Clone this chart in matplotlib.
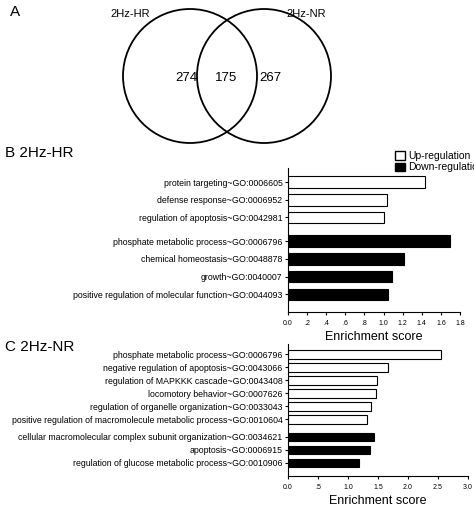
import matplotlib
matplotlib.use("Agg")
import matplotlib.pyplot as plt
from matplotlib.patches import Circle, Patch
import numpy as np

plt.rcParams['font.family'] = ['Liberation Sans', 'DejaVu Sans']

venn_labels = ["2Hz-HR", "2Hz-NR"]
venn_counts = [274, 175, 267]

hr_terms = ["protein targeting~GO:0006605", "defense response~GO:0006952",
            "regulation of apoptosis~GO:0042981", "phosphate metabolic process~GO:0006796",
            "chemical homeostasis~GO:0048878", "growth~GO:0040007",
            "positive regulation of molecular function~GO:0044093"]
hr_values = [1.43, 1.04, 1.00, 1.70, 1.21, 1.09, 1.05]
hr_up = [True, True, True, False, False, False, False]
hr_ticks = [0, .2, .4, .6, .8, 1.0, 1.2, 1.4, 1.6, 1.8]
hr_ticklabels = ["0.0", ".2", ".4", ".6", ".8", "1.0", "1.2", "1.4", "1.6", "1.8"]

nr_terms = ["phosphate metabolic process~GO:0006796", "negative regulation of apoptosis~GO:0043066",
            "regulation of MAPKKK cascade~GO:0043408", "locomotory behavior~GO:0007626",
            "regulation of organelle organization~GO:0033043",
            "positive regulation of macromolecule metabolic process~GO:0010604",
            "cellular macromolecular complex subunit organization~GO:0034621",
            "apoptosis~GO:0006915", "regulation of glucose metabolic process~GO:0010906"]
nr_values = [2.55, 1.66, 1.49, 1.47, 1.38, 1.31, 1.44, 1.36, 1.18]
nr_up = [True] * 6 + [False] * 3
nr_ticks = [0, .5, 1.0, 1.5, 2.0, 2.5, 3.0]
nr_ticklabels = ["0.0", ".5", "1.0", "1.5", "2.0", "2.5", "3.0"]

W, H = 474, 509
fig = plt.figure(figsize=(W/100, H/100), dpi=100)

# Venn
ax = fig.add_axes([0, 1-150/H, 1, 150/H])
ax.set_xlim(0, W); ax.set_ylim(150, 0); ax.axis('off')
ax.add_patch(Circle((190, 76), 67, fill=False, lw=1.3, ec='black'))
ax.add_patch(Circle((264, 76), 67, fill=False, lw=1.3, ec='black'))
ax.text(10, 12, "A", fontsize=11, va='center')
ax.text(130, 14, venn_labels[0], fontsize=8, ha='center', va='center')
ax.text(306, 14, venn_labels[1], fontsize=8, ha='center', va='center')
for x, c in zip([186, 226, 270], venn_counts):
    ax.text(x, 78, str(c), fontsize=9.5, ha='center', va='center')

def panel(rect, terms, values, up, ticks, ticklabels, xmax, title, ty):
    a = fig.add_axes(rect)
    n = len(terms)
    ngroup = sum(up)
    pos = np.array([i + (0.35 if i >= ngroup else 0) for i in range(n)])
    colors = ['white' if u else 'black' for u in up]
    a.barh(pos, values, height=0.66, color=colors, edgecolor='black', lw=0.8)
    a.set_ylim(pos[-1] + 1.0, -0.8)
    a.set_xlim(0, xmax)
    a.set_yticks(pos)
    a.set_yticklabels(terms, fontsize=6.3)
    a.set_xticks(ticks)
    a.set_xticklabels(ticklabels, fontsize=5)
    a.tick_params(axis='y', length=2, pad=2)
    a.tick_params(axis='x', length=2, pad=4)
    for s in ['top', 'right']:
        a.spines[s].set_visible(False)
    a.set_xlabel("Enrichment score", fontsize=9, labelpad=3)
    fig.text(5/W, 1-ty/H, title, fontsize=11, va='center')
    return a

axB = panel([288/W, 1-312/H, 172/W, 144/H], hr_terms, hr_values, hr_up,
            hr_ticks, hr_ticklabels, 1.8, "B 2Hz-HR", 153)
axB.legend(handles=[Patch(fc='white', ec='black', label='Up-regulation'),
                    Patch(fc='black', ec='black', label='Down-regulation')],
           loc='lower left', bbox_to_anchor=(0.6, 0.94), frameon=False,
           fontsize=7.5, handlelength=0.9, handleheight=0.9, handletextpad=0.3,
           labelspacing=0.15, borderaxespad=0)
panel([288/W, 1-476/H, 180/W, 132/H], nr_terms, nr_values, nr_up,
      nr_ticks, nr_ticklabels, 3.0, "C 2Hz-NR", 347)

fig.savefig("out.png", dpi=100)
